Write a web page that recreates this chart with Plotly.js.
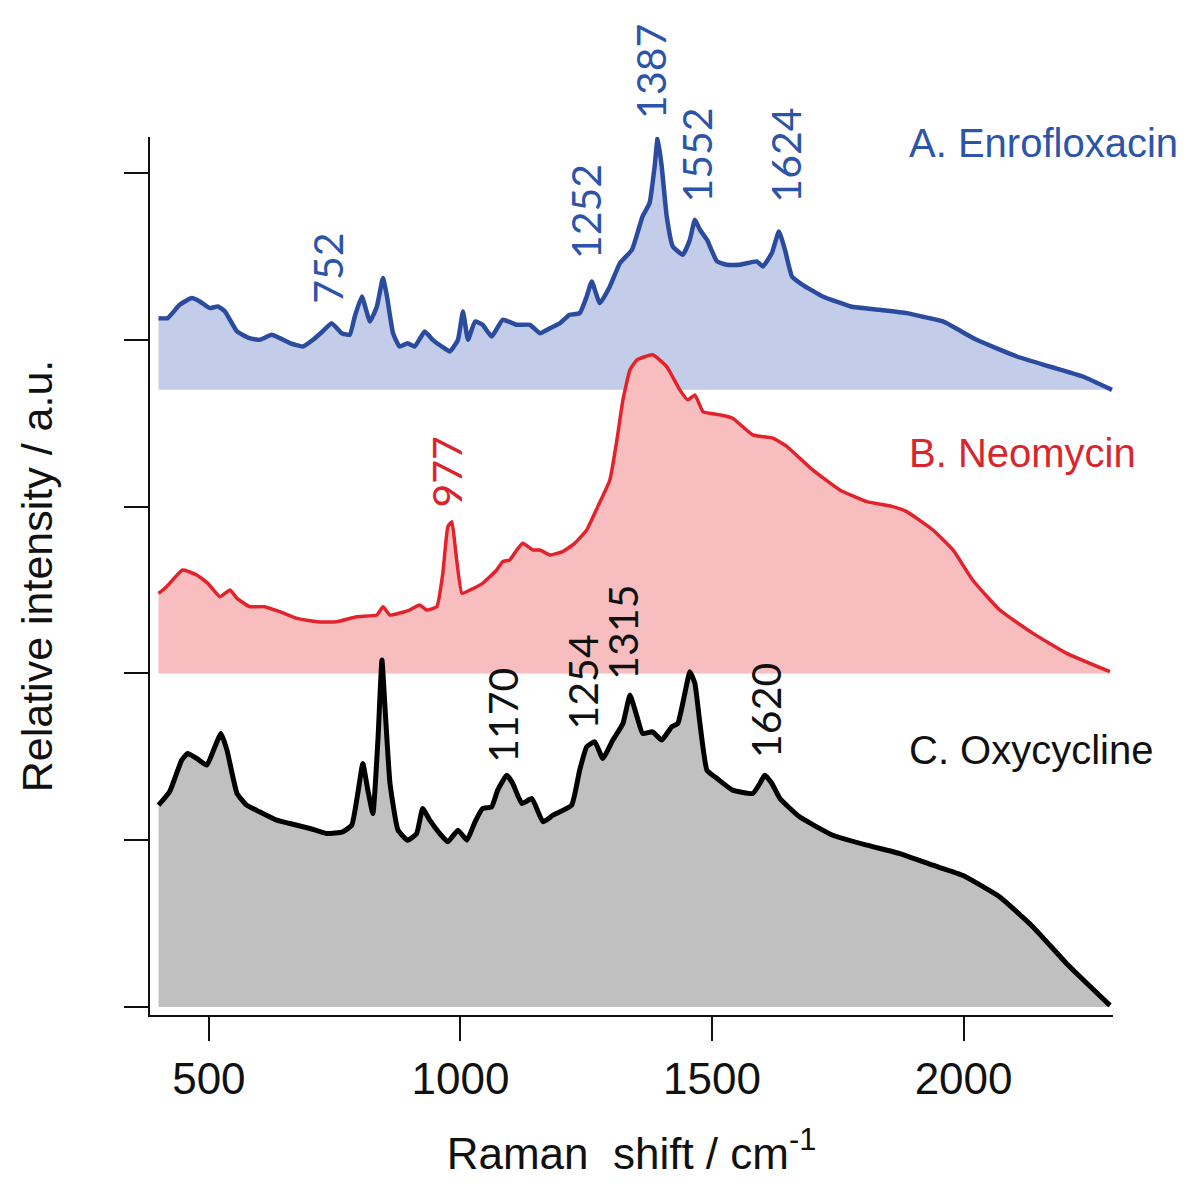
<!DOCTYPE html>
<html>
<head>
<meta charset="utf-8">
<script src="https://cdn.plot.ly/plotly-3.0.1.min.js"></script>
<style>html,body{margin:0;padding:0;background:#fff;}#chart{width:1200px;height:1200px;}</style>
</head>
<body>
<div id="chart"></div>
<script>
// ---- Data (Raman shift in cm^-1, relative intensity in a.u. above each trace's own baseline) ----
const seriesNames = ["A. Enrofloxacin", "B. Neomycin", "C. Oxycycline"];
const stackOffsets = [3.70, 2.00, 0.00];

const enroShift = [400,418,442,466,482,502,518,532,556,581,601,625,641,661,687,707,726,744,764,780,790,804,820,834,846,854,866,879,895,909,929,945,963,979,995,1005,1015,1029,1044,1062,1084,1112,1138,1158,1178,1198,1217,1237,1251,1261,1277,1297,1317,1341,1362,1376,1386,1392,1400,1410,1422,1442,1456,1466,1476,1490,1510,1529,1555,1589,1601,1619,1633,1645,1659,1680,1720,1776,1833,1887,1917,1959,2026,2106,2171,2237,2295];
const enroIntensity = [0.43,0.43,0.51,0.55,0.53,0.49,0.50,0.47,0.35,0.31,0.30,0.33,0.31,0.28,0.26,0.30,0.35,0.40,0.34,0.33,0.44,0.56,0.41,0.50,0.67,0.56,0.34,0.26,0.28,0.26,0.35,0.30,0.26,0.23,0.30,0.47,0.30,0.41,0.39,0.32,0.42,0.39,0.39,0.34,0.37,0.40,0.45,0.46,0.56,0.65,0.52,0.62,0.76,0.84,1.04,1.12,1.34,1.51,1.34,1.04,0.86,0.81,0.90,1.02,0.96,0.90,0.77,0.75,0.75,0.77,0.74,0.82,0.95,0.84,0.68,0.63,0.56,0.50,0.48,0.46,0.44,0.41,0.30,0.20,0.14,0.08,0.00];

const neoShift = [400,416,448,476,498,522,542,556,581,611,641,675,715,754,794,834,846,860,899,919,933,953,965,975,983,991,1003,1019,1044,1072,1084,1098,1112,1124,1144,1158,1178,1203,1227,1251,1273,1297,1311,1323,1337,1351,1382,1410,1436,1452,1466,1482,1516,1541,1581,1621,1649,1700,1754,1808,1859,1887,1939,1979,2018,2072,2138,2205,2291];
const neoIntensity = [0.48,0.52,0.62,0.59,0.54,0.46,0.50,0.45,0.40,0.40,0.37,0.33,0.31,0.31,0.34,0.35,0.40,0.35,0.38,0.41,0.38,0.40,0.60,0.88,0.91,0.72,0.48,0.50,0.54,0.62,0.67,0.68,0.74,0.78,0.74,0.74,0.71,0.73,0.78,0.86,1.00,1.16,1.40,1.64,1.82,1.88,1.91,1.84,1.70,1.64,1.67,1.57,1.55,1.53,1.43,1.41,1.36,1.22,1.10,1.03,1.00,0.97,0.86,0.74,0.56,0.38,0.24,0.12,0.01];

const oxyShift = [400,422,446,458,476,496,512,524,536,556,575,601,635,661,701,734,766,784,796,806,816,826,836,844,850,860,876,895,913,925,939,959,975,995,1013,1029,1044,1062,1074,1092,1104,1122,1142,1164,1184,1221,1237,1251,1267,1283,1303,1323,1337,1351,1362,1382,1400,1420,1432,1446,1456,1466,1476,1490,1510,1541,1581,1595,1605,1619,1635,1674,1740,1808,1873,1939,1998,2072,2138,2205,2291];
const oxyIntensity = [1.21,1.29,1.48,1.52,1.49,1.45,1.56,1.64,1.54,1.28,1.21,1.17,1.12,1.10,1.07,1.04,1.05,1.09,1.28,1.46,1.30,1.16,1.60,2.08,1.80,1.34,1.06,1.00,1.04,1.19,1.12,1.04,0.99,1.06,1.00,1.11,1.19,1.20,1.30,1.39,1.34,1.22,1.25,1.11,1.15,1.21,1.42,1.56,1.59,1.49,1.60,1.70,1.87,1.74,1.64,1.65,1.60,1.68,1.70,1.88,2.01,1.94,1.70,1.42,1.37,1.30,1.28,1.34,1.39,1.34,1.25,1.14,1.03,0.97,0.92,0.85,0.79,0.66,0.48,0.26,0.01];

// Peak labels (text) and the band positions they mark
const enroPeakLabels = ["752", "1252", "1387", "1552", "1624"];
const neoPeakLabels = ["977"];
const oxyPeakLabels = ["1170", "1254", "1315", "1620"];

const xTickVals = [500, 1000, 1500, 2000];
const yTickVals = [0, 1, 2, 3, 4, 5];

// ---- Label placement (layout, not data) ----
const enroLabelPos = [[734, 4.43], [1249, 4.77], [1378, 5.61], [1470, 5.11], [1647, 5.11]];
const neoLabelPos = [[973, 3.21]];
const oxyLabelPos = [[1082, 1.75], [1243, 1.95], [1323, 2.25], [1605, 1.78]];
const seriesLabelPos = [[1887, 5.18], [1887, 3.32], [1887, 1.54]];

// ---- Styles ----
const lineColors = ["#2b4c9e", "#e3232b", "#000000"];
const fillColors = ["#c3cde9", "#f7bdbf", "#c0c0c0"];
const labelColors = ["#2c54a8", "#d9262c", "#111111"];
const lineWidths = [4.5, 3.5, 5];
const yRange = [-0.048, 5.216];

const shifts = [enroShift, neoShift, oxyShift];
const intens = [enroIntensity, neoIntensity, oxyIntensity];

const traces = [];
for (let i = 0; i < 3; i++) {
  const xs = shifts[i];
  const off = stackOffsets[i];
  traces.push({
    x: [xs[0], xs[xs.length - 1]],
    y: [off, off],
    mode: "lines",
    line: {width: 0, color: "rgba(0,0,0,0)"},
    hoverinfo: "skip",
    showlegend: false
  });
  traces.push({
    x: xs,
    y: intens[i].map(v => v + off),
    name: seriesNames[i],
    mode: "lines",
    fill: "tonexty",
    fillcolor: fillColors[i],
    line: {color: lineColors[i], width: lineWidths[i], shape: "spline", smoothing: 0.4},
    showlegend: false
  });
}

function toPaperY(v) { return (v - yRange[0]) / (yRange[1] - yRange[0]); }

const annotations = [];
function addPeaks(labels, pos, color) {
  for (let k = 0; k < labels.length; k++) {
    annotations.push({
      x: pos[k][0], y: toPaperY(pos[k][1]), xref: "x", yref: "paper",
      text: labels[k], showarrow: false, textangle: -90,
      font: {family: "Lato, 'Open Sans', sans-serif", size: 41, color: color},
      xanchor: "center", yanchor: "middle"
    });
  }
}
addPeaks(enroPeakLabels, enroLabelPos, labelColors[0]);
addPeaks(neoPeakLabels, neoLabelPos, labelColors[1]);
addPeaks(oxyPeakLabels, oxyLabelPos, labelColors[2]);

for (let i = 0; i < 3; i++) {
  annotations.push({
    x: seriesLabelPos[i][0], y: toPaperY(seriesLabelPos[i][1]), xref: "x", yref: "paper",
    text: seriesNames[i], showarrow: false,
    font: {family: "Liberation Sans, Arial, sans-serif", size: 40, color: labelColors[i]},
    xanchor: "left", yanchor: "middle"
  });
}

const layout = {
  width: 1200, height: 1200,
  margin: {l: 150, r: 87, t: 137, b: 185},
  paper_bgcolor: "#ffffff", plot_bgcolor: "#ffffff",
  showlegend: false,
  font: {family: "Liberation Sans, Arial, sans-serif", color: "#111"},
  xaxis: {
    range: [383, 2297],
    showline: true, linecolor: "#111", linewidth: 2,
    ticks: "outside", ticklen: 24, tickwidth: 2, tickcolor: "#111",
    tickvals: xTickVals, ticktext: xTickVals.map(String),
    tickfont: {size: 44, color: "#111"},
    showgrid: false, zeroline: false,
    title: {text: "Raman  shift / cm<sup>-1</sup>", font: {size: 44, color: "#111"}, standoff: 36}
  },
  yaxis: {
    range: yRange,
    showline: true, linecolor: "#111", linewidth: 2,
    ticks: "outside", ticklen: 24, tickwidth: 2, tickcolor: "#111",
    tickvals: yTickVals, showticklabels: false,
    showgrid: false, zeroline: false,
    title: {text: "Relative intensity / a.u.", font: {size: 43, color: "#111"}, standoff: 58}
  },
  annotations: annotations
};

Plotly.newPlot("chart", traces, layout, {displayModeBar: false, staticPlot: true});
</script>
</body>
</html>
